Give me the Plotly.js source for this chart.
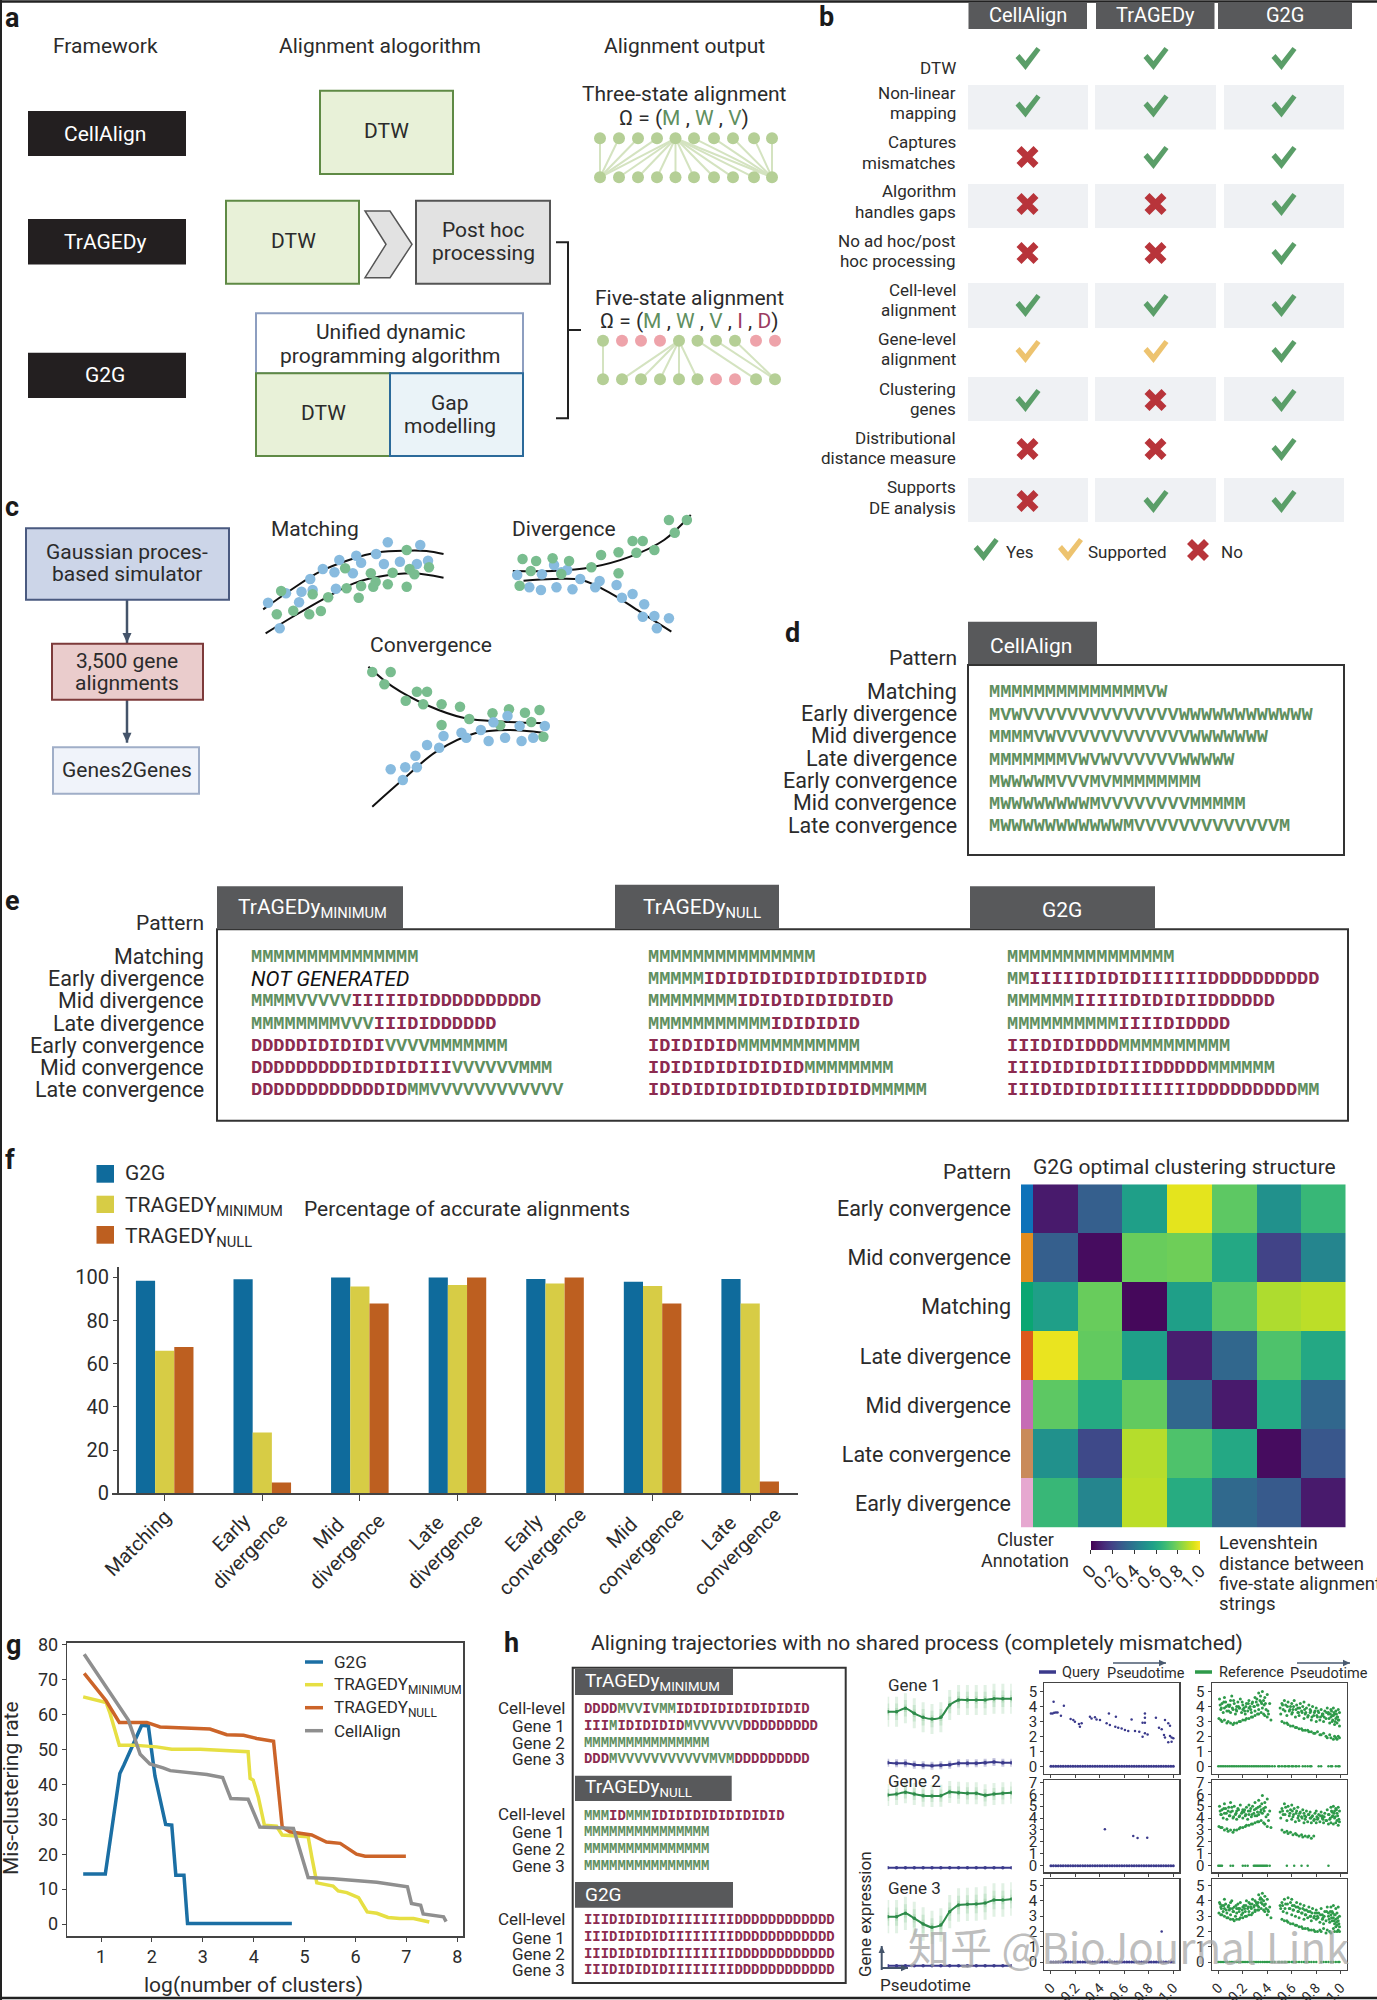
<!DOCTYPE html>
<html><head><meta charset="utf-8">
<script src="https://cdn.plot.ly/plotly-3.0.1.min.js"></script>
<style>html,body{margin:0;padding:0;background:#fff}</style></head>
<body><div id="chart" style="width:1377px;height:2000px"></div>
<script>
/* ---------- data ---------- */
const patterns=['Matching','Early divergence','Mid divergence','Late divergence','Early convergence','Mid convergence','Late convergence'];
const barCats=['Matching','Early<br>divergence','Mid<br>divergence','Late<br>divergence','Early<br>convergence','Mid<br>convergence','Late<br>convergence'];
const g2gAcc=[98.5,99.2,100,100,99.3,98,99.3];
const minAcc=[66,28.2,95.8,96.5,97.2,96,88];
const nullAcc=[67.8,5,88,100,100,88,5.5];

const cellAlignStr=['MMMMMMMMMMMMMMVW','MVWVVVVVVVVVVVVVVWWWWWWWWWWWW','MMMMVWVVVVVVVVVVVVWWWWWWW','MMMMMMMVWVWVVVVVVWWWWW','MWWWWMVVVMVMMMMMMMM','MWWWWWWWWMVVVVVVVVMMMMM','MWWWWWWWWWWWMVVVVVVVVVVVVVM'];
const minStr=['MMMMMMMMMMMMMMM','','MMMMVVVVVIIIIIDIDDDDDDDDDD','MMMMMMMMVVVIIIDIDDDDDD','DDDDDIDIDIDIVVVVMMMMMMM','DDDDDDDDDIDIDIDIIIVVVVVVMMM','DDDDDDDDDDDDIDMMVVVVVVVVVVVV'];
const nullStr=['MMMMMMMMMMMMMMM','MMMMMIDIDIDIDIDIDIDIDIDID','MMMMMMMMIDIDIDIDIDIDID','MMMMMMMMMMMIDIDIDID','IDIDIDIDMMMMMMMMMMM','IDIDIDIDIDIDIDMMMMMMMM','IDIDIDIDIDIDIDIDIDIDMMMMM'];
const g2gStr=['MMMMMMMMMMMMMMM','MMIIIIIDIDIDIIIIIIDDDDDDDDDD','MMMMMMIIIIIDIDIDIIDDDDDD','MMMMMMMMMMIIIIDIDDDD','IIIDIDIDDDMMMMMMMMMM','IIIDIDIDIDIIIDDDDDMMMMMM','IIIDIDIDIDIIIIIIIDDDDDDDDDMM'];

const hMinStr=['DDDDMVVIVMMIDIDIDIDIDIDIDID','IIIMIDIDIDIDMVVVVVVDDDDDDDDD','MMMMMMMMMMMMMMM','DDDMVVVVVVVVVVVMVMDDDDDDDDD'];
const hNullStr=['MMMIDMMMIDIDIDIDIDIDIDID','MMMMMMMMMMMMMMM','MMMMMMMMMMMMMMM','MMMMMMMMMMMMMMM'];
const hG2gStr=['IIIDIDIDIDIIIIIIIIDDDDDDDDDDDD','IIIDIDIDIDIIIIIIIIDDDDDDDDDDDD','IIIDIDIDIDIIIIIIIIDDDDDDDDDDDD','IIIDIDIDIDIIIIIIIIDDDDDDDDDDDD'];
const hRowNames=['Cell-level','Gene 1','Gene 2','Gene 3'];

const featureNames=['DTW','Non-linear<br>mapping','Captures<br>mismatches','Algorithm<br>handles gaps','No ad hoc/post<br>hoc processing','Cell-level<br>alignment','Gene-level<br>alignment','Clustering<br>genes','Distributional<br>distance measure','Supports<br>DE analysis'];
const cellAlignMarks=['Y','Y','N','N','N','Y','S','Y','N','N'];
const tragedyMarks=['Y','Y','Y','N','N','Y','S','N','N','Y'];
const g2gMarks=['Y','Y','Y','Y','Y','Y','Y','Y','Y','Y'];

const clusterOrder=['Early convergence','Mid convergence','Matching','Late divergence','Mid divergence','Late convergence','Early divergence'];
const clusterColors=['#0e72b9','#e28c1e','#0aa672','#dd5a1c','#c66cb5','#c98a5a','#e6a8d0'];
const clusterIdx=[[0],[1],[2],[3],[4],[5],[6]];
const levRow1=[0.07,0.30,0.56,0.96,0.75,0.50,0.67];
const levRow2=[0.30,0.03,0.77,0.78,0.60,0.20,0.45];
const levRow3=[0.56,0.77,0.02,0.56,0.74,0.88,0.90];
const levRow4=[0.97,0.76,0.56,0.08,0.33,0.72,0.60];
const levRow5=[0.75,0.61,0.76,0.33,0.07,0.60,0.33];
const levRow6=[0.50,0.22,0.89,0.72,0.60,0.03,0.27];
const levRow7=[0.67,0.45,0.90,0.62,0.34,0.28,0.07];

const g2gLineX=[0.65,1.085,1.37,1.45,1.80,1.93,2.06,2.27,2.39,2.47,2.63,2.70,4.75];
const g2gLineY=[14.3,14.3,43.1,45.5,56.9,56.7,42.4,28.5,28.3,14,14,0.2,0.2];
const minLineX=[0.65,1.10,1.18,1.36,1.64,2.09,2.39,2.95,3.89,3.93,3.99,4.09,4.21,4.45,4.56,5.07,5.14,5.24,5.56,5.66,5.83,6.06,6.23,6.42,6.64,6.87,7.14,7.45];
const minLineY=[65,63.4,60.2,51.2,51.2,50.7,50,50,49.3,41.7,41.2,36.4,28.3,28,25.5,25,19.3,11.8,10.9,9.5,9,7.6,3.5,3.1,1.9,1.6,1.6,0.6];
const nullLineX=[0.67,1.10,1.36,1.90,2.16,2.42,3.14,3.47,3.80,4.06,4.39,4.56,4.71,5.14,5.43,5.70,6.02,6.19,6.99];
const nullLineY=[71.7,63.9,57.7,57.7,56.4,56.3,55.8,54.2,54,53.1,52.3,27.8,26.4,25.5,23.5,23.1,20,19.4,19.4];
const caLineX=[0.67,1.54,1.77,1.96,2.22,2.36,3.08,3.39,3.55,3.89,4.12,4.45,4.78,5.07,5.56,6.42,7.02,7.10,7.28,7.33,7.73,7.78];
const caLineY=[77.2,58.3,48.6,45.8,44.7,43.9,42.8,41.9,35.9,35.7,27.8,27.6,27.4,13.3,13,12,10.7,5.9,5.4,2.9,2.1,0.7];

/* panel h: smoothed expression traces (plotted heights) */
const trendIdx=[0,1,2,3,4,5,6,7,8,9,10,11,12,13,14];
const g1Ref=[275,275,265,280,292,297,292,255,240,240,240,240,236,236,236];
const g1Qry=[428,430,430,434,436,437,436,434,430,430,430,428,426,428,428];
const g2Ref=[525,522,517,522,527,528,527,516,518,520,520,526,522,520,518];
const g2Qry=[743,743,743,743,743,743,743,743,743,743,743,743,743,743,743];
const g3Ref=[890,890,880,895,912,922,915,875,855,853,852,849,840,840,837];
const g3Qry=[1037,1037,1037,1037,1037,1037,1037,1037,1037,1037,1037,1037,1037,1037,1037];

const q1X=[0,.014,.027,.041,.054,.022,.106,.082,.161,.183,.196,.229,.237,.251,.319,.332,.36,.373,.401,.474,.455,.482,.531,.526,.55,.578,.605,.632,.659,.687,.722,.768,.768,.768,.749,.749,.768,.79,.858,.883,.905,.932,.959,.973,.924,.932,.973,.959,.986,1,.986];
const q1Y=[3.53,3.53,3.58,3.6,3.6,4.31,4.04,3.38,3.16,3.09,2.98,2.82,2.64,2.87,3.31,3.2,3.27,3.13,3.09,3.53,2.87,2.76,3.31,2.64,2.58,2.53,2.42,2.36,3.13,2.36,2.31,3.53,3.24,2.91,2.91,1.98,2.2,2.13,3.24,2.58,2.47,3.09,2.87,2.71,2.09,1.93,2.02,1.6,1.64,1.87,1.93];
const q2X=[.441,.673,.708,.787];
const q2Y=[3.05,2.49,2.32,2.35];
const q3X=[.905];
const q3Y=[2.0];
const qZeroX=[0,.02,.04,.06,.08,.1,.12,.14,.16,.18,.2,.22,.24,.26,.28,.3,.32,.34,.36,.38,.4,.42,.44,.46,.48,.5,.52,.54,.56,.58,.6,.62,.64,.66,.68,.7,.72,.74,.76,.78,.8,.82,.84,.86,.88,.9,.92,.94,.96,.98,1];
const qZeroY=qZeroX.map(()=>0);
const rZeroX=[0,.015,.03,.045,.06,.075,.09,.105,.12,.135,.15,.165,.18,.195,.21,.225,.24,.255,.27,.285,.3,.315,.33,.345,.36,.375,.39,.405,.42,.44,.46,.49,.5,.52,.54,.55,.57,.58,.6,.61,.63,.64,.66,.69,.71,.73,.75,.76,.82,.84,.9,.92,.93,.96,.98,.99];
const rZeroY=rZeroX.map(()=>0);
const r2ZeroX=[0,.01,.02,.03,.1,.12,.2,.22,.24,.29,.3,.31,.32,.33,.34,.35,.36,.37,.38,.39,.4,.42,.56,.62,.68,.73,.9];
const r2ZeroY=r2ZeroX.map(()=>0);
const r3ZeroX=[0,.015,.03,.045,.06,.075,.09,.105,.12,.135,.15,.165,.18,.195,.21,.225,.24,.255,.27,.285,.3,.315,.33,.345,.36,.375,.39,.405,.42,.44,.46,.49,.5,.52,.54,.55,.57,.58,.6,.61,.63,.64,.66,.68,.7,.72,.74,.76,.78,.8,.84,.86,.88,.9,.92,.94,.96,.98,.99];
const r3ZeroY=r3ZeroX.map(()=>0);

const refXa=[.01,.03,.05,.06,.08,.1,.11,.13,.15,.16,.18,.2,.21,.23,.25,.26,.28,.3,.31,.33,.34,.36,.38,.4,.42,.52,.54,.55,.57,.59,.6,.62,.64,.65,.67,.69,.7,.72,.74,.75,.77,.79,.8,.82,.84,.85,.87,.89,.9,.92,.93,.94,.95,.96,.97,.98,.99];
const refXb=[.02,.04,.05,.07,.09,.1,.12,.14,.15,.17,.19,.2,.22,.24,.25,.27,.29,.3,.32,.33,.35,.36,.37,.39,.41,.51,.53,.56,.58,.6,.61,.63,.65,.66,.68,.7,.71,.73,.75,.76,.78,.8,.81,.83,.85,.86,.88,.9,.91,.92,.93,.94,.95,.96,.97,.98,.99];
const refXc=[.005,.02,.03,.05,.07,.08,.1,.12,.13,.15,.17,.18,.2,.22,.23,.25,.27,.28,.3,.32,.33,.35,.37,.38,.4,.43,.52,.54,.56,.57,.59,.61,.63,.64,.66,.68,.69,.71,.73,.74,.76,.78,.79,.81,.83,.84,.86,.88,.89,.91,.92,.94,.95,.96,.97,.98,.99];
const refXd=[.015,.025,.045,.065,.085,.095,.115,.125,.145,.165,.175,.195,.215,.225,.245,.265,.275,.295,.315,.325,.345,.355,.375,.385,.405,.505,.525,.545,.565,.585,.605,.615,.635,.655,.665,.685,.705,.715,.735,.755,.765,.785,.805,.815,.835,.855,.865,.885,.905,.915,.925,.935,.945,.955,.965,.975,.985];
const r1a=[4.5,4.2,4.6,4.3,4.1,4.4,4.7,4.2,4.0,4.3,4.5,4.1,3.9,4.2,4.4,4.0,4.3,4.6,4.3,4.9,4.4,5.0,4.6,4.8,4.2,4.2,4.4,4.1,4.3,4.0,4.2,4.4,4.1,3.9,4.2,4.0,4.3,3.9,4.1,3.8,4.0,3.7,3.9,3.6,3.8,3.5,3.7,3.9,3.6,3.8,3.4,3.9,3.5,3.7,3.3,3.8,3.6];
const r1b=[3.8,3.6,3.9,3.7,4.0,3.6,3.8,3.5,3.7,3.9,3.6,3.8,3.5,3.7,3.9,3.6,4.0,3.7,4.1,3.8,4.3,3.9,4.4,3.8,3.5,3.5,3.8,3.4,3.7,3.5,3.8,3.3,3.6,3.4,3.7,3.2,3.5,3.3,3.6,3.1,3.4,3.0,3.3,3.1,3.4,3.0,3.2,3.5,2.9,3.3,3.0,3.4,2.8,3.2,2.9,3.1,2.7];
const r1c=[3.2,3.1,3.0,3.1,2.9,3.0,2.9,2.8,2.9,2.9,3.0,3.0,3.1,3.1,3.2,3.2,3.3,3.3,3.4,3.5,3.5,3.6,3.5,3.4,3.3,3.1,3.0,2.9,2.9,2.8,2.7,2.7,2.6,2.6,2.5,2.5,2.4,2.4,2.4,2.3,2.3,2.2,2.2,2.3,2.1,2.1,2.2,2.0,1.9,2.1,1.9,1.8,2.0,1.9,1.8,2.0,1.9];
const r1d=[4.1,3.9,4.3,4.0,3.7,4.1,3.9,4.4,3.8,4.0,3.9,4.3,3.7,4.0,4.2,3.8,4.2,4.0,4.5,4.1,4.7,4.2,4.1,4.2,3.7,3.9,4.1,3.7,4.0,3.8,3.6,4.0,3.8,3.6,3.9,3.6,3.8,3.6,3.4,3.7,3.3,3.6,3.4,3.7,3.3,3.5,3.3,3.6,3.2,3.5,3.7,3.1,3.6,3.0,3.5,3.3,3.1];
const r2a=[5.0,4.7,5.2,4.8,4.6,5.3,4.9,5.0,4.6,4.8,5.1,4.7,4.5,4.9,5.1,4.6,5.0,5.3,4.8,5.5,5.0,5.9,5.3,5.6,4.6,4.8,5.2,4.9,5.0,4.7,5.1,4.8,4.6,4.9,4.5,4.7,4.4,4.6,4.3,4.5,4.2,4.4,4.6,4.3,4.5,4.2,4.4,4.7,4.3,4.9,4.5,5.0,4.6,4.8,4.4,4.9,4.6];
const r2b=[4.3,4.0,4.4,3.9,4.2,4.5,4.0,4.3,3.9,4.1,4.4,4.0,4.2,3.9,4.3,4.1,4.4,4.2,4.5,4.3,4.7,4.4,4.8,4.1,3.8,4.0,4.3,3.8,4.2,3.9,4.1,3.7,4.0,3.8,4.1,3.6,3.9,3.7,4.0,3.6,3.8,3.6,3.9,3.7,4.0,3.6,3.8,3.5,3.9,3.6,4.1,3.5,4.0,3.6,3.8,3.4,3.7];
const r2c=[3.3,3.2,3.2,3.0,3.1,2.9,3.0,2.8,3.0,3.0,3.1,3.2,3.2,3.3,3.4,3.4,3.5,3.5,3.6,3.7,3.7,3.8,3.6,3.5,3.3,3.2,3.0,2.8,2.9,2.7,2.8,2.6,2.7,2.6,2.5,2.6,2.4,2.5,2.4,2.5,2.3,2.5];
const r2d=[4.6,4.3,4.8,4.4,4.9,4.2,4.6,4.1,4.4,4.7,4.2,4.5,4.7,4.3,4.6,4.8,4.3,4.7,4.2,4.9,4.5,5.2,4.6,4.9,4.3,4.5,4.6,4.3,4.6,4.4,4.6,4.3,4.4,4.2,4.4,4.0,4.2,4.1,4.3,4.0,4.1,3.9,4.1,4.0,4.2,3.9,4.1,3.8,4.3,4.0,4.6,4.2,4.4,4.1,4.7,4.2,3.9];
const r3a=[3.9,3.7,4.1,3.8,3.6,3.9,4.0,3.6,3.5,3.8,3.9,3.6,3.7,4.0,3.9,3.8,4.1,4.0,3.9,4.4,4.1,4.5,4.3,4.1,3.6,3.9,4.1,3.8,4.2,3.9,4.1,3.7,3.9,3.6,3.8,3.5,3.7,3.4,3.6,3.3,3.5,3.2,3.4,3.2,3.5,3.1,3.3,3.6,3.2,3.6,3.3,3.7,3.1,3.5,3.2,3.6,3.0];
const r3b=[3.6,3.3,3.5,3.2,3.4,3.1,3.3,3.0,3.2,3.3,3.1,3.2,3.3,3.5,3.3,3.5,3.6,3.4,3.7,3.6,3.9,3.8,4.0,3.5,3.3,3.5,3.3,3.2,3.5,3.1,3.4,3.0,3.3,2.9,3.2,2.8,3.1,2.9,3.0,2.7,2.9,2.8,3.0,2.6,2.8,2.5,2.7,3.0,2.6,3.1,2.7,2.9,2.5,2.8,2.4,2.7,2.3];
const r3c=[3.2,3.1,3.1,3.0,2.9,2.9,2.8,2.8,2.7,2.8,2.8,2.9,2.9,3.0,3.0,3.1,3.1,3.2,3.3,3.4,3.4,3.5,3.4,3.3,3.1,2.9,2.8,2.7,2.7,2.6,2.5,2.5,2.4,2.4,2.3,2.3,2.2,2.2,2.2,2.1,2.1,2.1,2.0,2.0,2.1,2.0,2.2,1.9,2.1,2.0,1.9,2.2,2.0,2.3,2.0,2.1,2.0];
const r3d=[3.8,3.5,3.7,3.4,3.7,3.5,3.5,3.3,3.7,3.5,3.5,3.4,3.5,3.7,3.6,3.6,3.8,3.7,3.8,3.9,4.2,4.1,3.7,3.8,3.4,3.7,3.7,3.5,3.8,3.5,3.7,3.4,3.6,3.3,3.5,3.2,3.4,3.1,3.3,3.0,3.2,3.0,3.2,2.9,3.1,2.9,3.0,3.3,2.8,3.3,2.9,3.2,2.7,3.1,2.6,2.9,2.5];

/* panel c schematic cell positions, in the schematic's own coordinates */
const matchBlueX=[800,867,776,735,745,700,666,690,728,792,825,860,883,640,622,590,617,553,693,577,645];
const matchBlueY=[157,165,192,197,218,210,237,247,250,222,215,222,212,267,305,310,337,338,296,415,300];
const matchGreenX=[839,712,765,810,845,855,885,775,800,839,770,745,715,740,677,645,580,605,571,638,662];
const matchGreenY=[180,235,250,248,237,253,232,275,283,290,290,288,295,323,322,313,303,362,373,373,363];
const divBlueX=[1067,1118,1143,1170,1158,1092,1116,1148,1181,1197,1237,1228,1272,1283,1305,1329,1326,1350,1380,1355];
const divBlueY=[255,253,225,240,247,292,300,292,298,267,273,292,285,323,312,343,380,378,385,415];
const divGreenX=[1380,1417,1392,1305,1326,1350,1313,1276,1240,1220,1276,1078,1106,1140,1174,1095,1158,1072];
const divGreenY=[90,90,128,153,153,180,188,187,195,232,250,207,213,205,213,243,252,287];
const convGreenX=[768,806,793,860,881,837,873,911,949,968,911,1016,1050,1083,1113,1096,1032,1121];
const convGreenY=[546,546,583,605,605,632,643,643,650,687,705,670,658,668,660,696,706,740];
const convBlueX=[1018,1047,1072,1124,992,952,962,915,1008,1042,1076,1100,881,906,857,806,836,860,831];
const convBlueY=[697,678,708,708,720,728,743,738,753,743,753,743,765,773,797,838,832,832,870];

/* ---------- helpers ---------- */
const W=1377,H=2000, FONT='Roboto, sans-serif', INK='#2b2b2b';
const domX=(a,b)=>[a/W,b/W], domY=(a,b)=>[1-b/H,1-a/H];
const annotations=[], shapes=[], traces=[];
function T(text,x,y,size,o={}){annotations.push({text,x,y,xref:o.xref||'x',yref:'y',xshift:o.dx||0,showarrow:false,xanchor:o.a||'center',yanchor:'middle',align:o.a==='right'?'right':o.a==='left'?'left':'center',font:{family:o.f||FONT,size,color:o.c||INK},textangle:o.rot||0,borderpad:0});}
/* several lines around a centre, with the reference's tight line spacing */
function ML(text,x,yc,size,gap,o={}){const ls=text.split('<br>');ls.forEach((l,i)=>T(l,x,yc+(i-(ls.length-1)/2)*gap,size,o));}
function R(x0,y0,x1,y1,fill,line,lw){shapes.push({type:'rect',xref:'x',yref:'y',x0,y0,x1,y1,fillcolor:fill||'rgba(0,0,0,0)',line:{color:line||'rgba(0,0,0,0)',width:line?(lw||2):0}});}
function L(pts,color,w){traces.push({type:'scatter',mode:'lines',x:pts.map(p=>p[0]),y:pts.map(p=>p[1]),line:{color,width:w},hoverinfo:'skip',showlegend:false,xaxis:'x',yaxis:'y'});}
function P(d,fill,line,lw){shapes.push({type:'path',path:d,xref:'x',yref:'y',fillcolor:fill||'rgba(0,0,0,0)',line:{color:line||'rgba(0,0,0,0)',width:line?lw:0}});}
function arrow(x0,y0,x1,y1,color,lw,h){L([[x0,y0],[x1,y1]],color,lw);const dx=x1-x0,dy=y1-y0,n=Math.hypot(dx,dy),ux=dx/n,uy=dy/n;P(`M${x1},${y1} L${x1-ux*h-uy*h*.45},${y1-uy*h+ux*h*.45} L${x1-ux*h+uy*h*.45},${y1-uy*h-ux*h*.45} Z`,color);}
function colourise(s){return '<b>'+s.match(/[MVW]+|[ID]+/g).map(g=>`<span style="color:${/[MVW]/.test(g[0])?'#5f8f5f':'#8c2b50'}">${g}</span>`).join('')+'</b>';}
function mono(s,x,y,size){if(s)T(colourise(s),x,y,size,{a:'left',f:'Liberation Mono, monospace'});}
function letter(s,x,y){T('<b>'+s+'</b>',x,y,27,{f:'Roboto, sans-serif',c:'#1a1a1a'});}
function dots(xs,ys,color,size,ax,ay){traces.push({type:'scatter',mode:'markers',x:xs,y:ys,marker:{color,size},hoverinfo:'skip',showlegend:false,xaxis:ax||'x',yaxis:ay||'y'});}
const DTWF='#e8f1d8',DTWL='#5f8a45',HDR='#58595b',BIG=21;

/* page frame */
L([[0,1.5],[W,1.5]],'#222',2.5); L([[1,0],[1,H]],'#222',2); L([[0,1998],[W,1998]],'#222',2.5);

/* ---------- panel a ---------- */
letter('a',12,18);
T('Framework',105,45.7,BIG); T('Alignment alogorithm',380,45.7,BIG); T('Alignment output',684,45.7,BIG);
[['CellAlign',111,156],['TrAGEDy',219,264.5],['G2G',352.7,398]].forEach(r=>{R(28,r[1],186,r[2],'#231f20');T(r[0],105,(r[1]+r[2])/2,BIG,{c:'#fff'});});
R(320,90.7,453,174,DTWF,DTWL); T('DTW',386,131,BIG);
R(226,200.7,359,283.7,DTWF,DTWL); T('DTW',293,241,BIG);
P('M365,211 L390,211 L412,244.3 L390,277.7 L365,277.7 L386,244.3 Z','#e2e2e2','#555',1.5);
R(416,200.7,550,283.7,'#e2e2e2','#555'); ML('Post hoc<br>processing',483,241.5,BIG,23.3);
R(256,313.3,523,373.3,'#fff','#8d9ec0'); ML('Unified dynamic<br>programming algorithm',390,344,BIG,24);
R(256,373.3,390,456,DTWF,DTWL); T('DTW',323,413.3,BIG);
R(390,373.3,523,456,'#eaf3f8','#2b6a9a'); ML('Gap<br>modelling',450,414.3,BIG,23.3);
L([[556,242.3],[568,242.3],[568,418.3],[556,418.3]],'#222',2); L([[568,330],[581,330]],'#222',2);
const gr='#5f8f5f',rd='#9c3b62';
const sp=(t,c)=>`<span style="color:${c}">${t}</span>`;
T('Three-state alignment',684,94.3,BIG);
T(`Ω = (${sp('M',gr)} , ${sp('W',gr)} , ${sp('V',gr)})`,684,117.7,BIG);
const top3=[600,619,638,657,675.5,694,714,733,754,772], topEdges3=[0,1,2,3,4,4,4,4,4,4,4,4,4,4,5,6,7,8,9], botEdges3=[0,0,0,0,0,1,2,3,4,5,6,7,8,9,9,9,9,9,9];
topEdges3.forEach((t,i)=>L([[top3[t],138.3],[top3[botEdges3[i]],177.3]],'#d4e3c0',2));
dots(top3,top3.map(()=>138.3),'#b5cf96',12); dots(top3,top3.map(()=>177.3),'#b5cf96',12);
T('Five-state alignment',689,297.7,BIG);
T(`Ω = (${sp('M',gr)} , ${sp('W',gr)} , ${sp('V',gr)} , ${sp('I',rd)} , ${sp('D',rd)})`,689,321,BIG);
const top5=[603,622,641,660,679,697.5,716,735,756,775], topEdges5=[0,4,4,4,4,4,5,6,7], botEdges5=[0,1,2,3,4,5,8,9,9];
const topKind5=['g','p','p','p','g','g','g','g','p','p'], botKind5=['g','g','g','g','g','g','p','p','g','g'];
topEdges5.forEach((t,i)=>L([[top5[t],340.7],[top5[botEdges5[i]],379.3]],'#d4e3c0',2));
dots(top5,top5.map(()=>340.7),topKind5.map(k=>k==='g'?'#b5cf96':'#eea3aa'),12);
dots(top5,top5.map(()=>379.3),botKind5.map(k=>k==='g'?'#b5cf96':'#eea3aa'),12);

/* ---------- panel b ---------- */
letter('b',826,17);
[['CellAlign',968.5,1087],['TrAGEDy',1096,1214.5],['G2G',1218,1352]].forEach(h=>{R(h[1],2,h[2],29,HDR);T(h[0],(h[1]+h[2])/2,15,20,{c:'#fff'});});
[[85,129.5],[184,228],[283,328],[377,421],[478,522]].forEach(r=>{[[968,1088],[1095,1216],[1224,1344]].forEach(c=>R(c[0],r[0],c[1],r[1],'#eff1f4'));});
const rowLabelY=[68,103,152.5,201.5,251,300,349,399,448,497.5], rowMarkY=[58,105.5,157,204,253,305,351,400,449,501];
featureNames.forEach((f,i)=>ML(f,957,rowLabelY[i],17,20.3,{a:'right'}));
function check(cx,cy,c){P(`M${cx-12},${cy} L${cx-8},${cy-4} L${cx-2},${cy+3} L${cx+9},${cy-11} L${cx+13},${cy-8} L${cx-2},${cy+12} Z`,c);}
function cross(cx,cy){P(`M${cx-8.5},${cy-8.5} L${cx+8.5},${cy+8.5} M${cx-8.5},${cy+8.5} L${cx+8.5},${cy-8.5}`,null,'#b8343a',7);}
function mark(m,cx,cy){if(m==='Y')check(cx,cy,'#5a9e68');else if(m==='S')check(cx,cy,'#edc36f');else cross(cx,cy);}
rowMarkY.forEach((y,i)=>{mark(cellAlignMarks[i],1027.5,y);mark(tragedyMarks[i],1155.5,y);mark(g2gMarks[i],1283.5,y);});
mark('Y',985.6,549); T('Yes',1004.7,552,17,{a:'left'});
mark('S',1070,549); T('Supported',1086.5,552,17,{a:'left'});
mark('N',1198,550); T('No',1220,552,17,{a:'left'});

/* ---------- panel c ---------- */
letter('c',12,507);
R(26,528.3,229,599.7,'#ccd5e8','#4a5a80'); ML('Gaussian proces-<br>based simulator',127,563,BIG,22.6);
arrow(127,599.7,127,643,'#44546a',2.5,10);
R(52,643.7,203,699.7,'#eacccc','#7d3a3a'); ML('3,500 gene<br>alignments',127,672,BIG,22.3);
arrow(127,699.7,127,742.7,'#44546a',2.5,10);
R(53,747.3,199,793.7,'#f0f3fa','#a0aec8'); T('Genes2Genes',127,770,BIG);
T('Matching',315,529.3,BIG); T('Divergence',564,529.3,BIG); T('Convergence',431,645,BIG);
const cX=v=>v/2.063, cY=v=>v/3+490;
function curve(pts){traces.push({type:'scatter',mode:'lines',x:pts.map(p=>cX(p[0])),y:pts.map(p=>cY(p[1])),line:{color:'#111',width:2,shape:'spline'},hoverinfo:'skip',showlegend:false,xaxis:'x',yaxis:'y'});}
curve([[543,358],[600,300],[660,245],[720,210],[780,187],[840,182],[880,183],[915,192]]);
curve([[548,430],[610,375],[670,325],[730,280],[790,258],[850,250],[915,263]]);
curve([[1058,243],[1140,243],[1220,232],[1300,200],[1370,150],[1425,75]]);
curve([[1080,272],[1140,267],[1200,270],[1260,310],[1320,365],[1385,425]]);
curve([[760,530],[810,590],[880,645],[960,685],[1040,695],[1130,700]]);
curve([[768,950],[830,870],[900,785],[980,730],[1050,720],[1120,728]]);
const BL='#88bbdf',GN='#79bd8f',CS=10.5;
dots(matchBlueX.map(cX),matchBlueY.map(cY),BL,CS); dots(matchGreenX.map(cX),matchGreenY.map(cY),GN,CS);
dots(divBlueX.map(cX),divBlueY.map(cY),BL,CS); dots(divGreenX.map(cX),divGreenY.map(cY),GN,CS);
dots(convGreenX.map(cX),convGreenY.map(cY),GN,CS); dots(convBlueX.map(cX),convBlueY.map(cY),BL,CS);

/* ---------- panel d ---------- */
letter('d',792,633);
R(968,621.7,1097,665,HDR); T('CellAlign',1030.5,646,BIG,{c:'#fff'});
R(968,665,1344,855,'#fff','#333');
T('Pattern',958,657.7,BIG,{a:'right'});
const dY=[692.7,715,737.3,760,782.3,804.3,826.7];
patterns.forEach((p,i)=>{T(p,958,dY[i]-1.5,21.5,{a:'right'});mono(cellAlignStr[i],988,dY[i],18.6);});

/* ---------- panel e ---------- */
letter('e',12,901);
R(217,929.3,1348,1120.7,'#fff','#333'); L([[616.5,929.3],[616.5,1120.7]],'#333',2); L([[970.7,929.3],[970.7,1120.7]],'#333',2);
R(217,886.3,403,929,HDR); R(615,884.7,779,929,HDR); R(970,886.3,1155,929,HDR);
T('TrAGEDy<sub>MINIMUM</sub>',236.6,908,BIG,{a:'left',c:'#fff'});
T('TrAGEDy<sub>NULL</sub>',642,908,BIG,{a:'left',c:'#fff'});
T('G2G',1062,910,BIG,{c:'#fff'});
T('Pattern',205,923.3,BIG,{a:'right'});
const eY=[957.3,979.3,1001.7,1024,1046,1068.7,1090.7];
patterns.forEach((p,i)=>{T(p,205,eY[i]-1,21.5,{a:'right'});mono(minStr[i],250,eY[i],18.6);mono(nullStr[i],647,eY[i],18.6);mono(g2gStr[i],1006,eY[i],18.6);});
T('<i>NOT GENERATED</i>',250,979,BIG,{a:'left',c:'#111'});

/* ---------- panel f bars ---------- */
letter('f',10,1160);
R(96.5,1165,114,1182.7,'#0f6b9c'); R(96.5,1195.7,114,1213,'#d7cc45'); R(96.5,1226,114,1243.7,'#bd5f20');
T('G2G',124,1173.3,BIG,{a:'left'}); T('TRAGEDY<sub>MINIMUM</sub>',124,1206,BIG,{a:'left'}); T('TRAGEDY<sub>NULL</sub>',124,1237,BIG,{a:'left'});
T('Percentage of accurate alignments',466.6,1209.3,BIG);
[[g2gAcc,'#0f6b9c','G2G'],[minAcc,'#d7cc45','TRAGEDY minimum'],[nullAcc,'#bd5f20','TRAGEDY null']].forEach(s=>traces.push({type:'bar',x:barCats,y:s[0],name:s[2],marker:{color:s[1]},xaxis:'x2',yaxis:'y2',showlegend:false,hoverinfo:'skip'}));
barCats.forEach((c,i)=>T(c,c,i===0?1543:1542,20,{xref:'x2',dx:i===0?-27:-22,rot:-45}));

/* ---------- panel f heatmap ---------- */
traces.push({type:'heatmap',x:[0,1,2,3,4,5,6],y:clusterOrder,z:[levRow1,levRow2,levRow3,levRow4,levRow5,levRow6,levRow7],colorscale:'Viridis',zmin:0,zmax:1,xaxis:'x4',yaxis:'y4',hoverinfo:'skip',
 colorbar:{orientation:'h',x:1090.7/W,xanchor:'left',y:1-1541/H,yanchor:'top',xpad:0,ypad:0,lenmode:'pixels',len:108.5,thicknessmode:'pixels',thickness:9,tickvals:[0,.2,.4,.6,.8,1],ticktext:['0','0.2','0.4','0.6','0.8','1.0'],tickangle:-45,ticks:'outside',ticklen:4,tickcolor:'#333',tickfont:{family:FONT,size:18,color:INK},outlinewidth:0}});
traces.push({type:'heatmap',x:[0],y:clusterOrder,z:clusterIdx,zmin:-0.5,zmax:6.5,colorscale:clusterColors.flatMap((c,i)=>[[i/7,c],[(i+1)/7,c]]),showscale:false,xaxis:'x5',yaxis:'y5',hoverinfo:'skip'});
T('Pattern',1011.5,1171.7,BIG,{a:'right'}); T('G2G optimal clustering structure',1184,1167.3,BIG);
ML('Cluster<br>Annotation',1025,1550.3,18,20.7);
ML('Levenshtein<br>distance between<br>five-state alignment<br>strings',1218,1573.8,18.5,20.4,{a:'left'});

/* ---------- panel g ---------- */
letter('g',13,1645);
[[g2gLineX,g2gLineY,'#1b6fa4','G2G'],[minLineX,minLineY,'#e6df43','TRAGEDY minimum'],[nullLineX,nullLineY,'#cc6429','TRAGEDY null'],[caLineX,caLineY,'#8f8f8f','CellAlign']].forEach(s=>traces.push({type:'scatter',mode:'lines',x:s[0],y:s[1],name:s[3],line:{color:s[2],width:3.5},xaxis:'x3',yaxis:'y3',showlegend:false,hoverinfo:'skip'}));
[['G2G','#1b6fa4',1662],['TRAGEDY<sub>MINIMUM</sub>','#e6df43',1684.7],['TRAGEDY<sub>NULL</sub>','#cc6429',1707.7],['CellAlign','#8f8f8f',1730.7]].forEach(l=>{L([[305,l[2]],[323,l[2]]],l[1],3.5);T(l[0],333,l[2]+(l[0].includes('sub')?1:0),17,{a:'left'});});
T('Mis-clustering rate',11,1788,21,{rot:-90});
T('log(number of clusters)',253,1985,21);

/* ---------- panel h ---------- */
letter('h',511,1643);
T('Aligning trajectories with no shared process (completely mismatched)',917,1643,21);
R(572.7,1667.7,845.7,1983,'#fff','#333');
L([[572.7,1774.7],[845.7,1774.7]],'#333',2); L([[572.7,1881],[845.7,1881]],'#333',2);
R(575,1669,733,1695,HDR); R(575,1775.7,731.7,1801,HDR); R(575,1882,733,1907.7,HDR);
T('TrAGEDy<sub>MINIMUM</sub>',584,1681,19,{a:'left',c:'#fff'});
T('TrAGEDy<sub>NULL</sub>',584,1787,19,{a:'left',c:'#fff'});
T('G2G',584,1894,19,{a:'left',c:'#fff'});
const hLabelY=[1707.7,1726,1743,1759,1814,1832,1849,1865.7,1919,1937.7,1954,1970];
const hStrY=[1709,1725.7,1742.7,1759.3,1815.7,1832.3,1849.3,1866,1920,1936.7,1953.7,1970.3];
[hMinStr,hNullStr,hG2gStr].forEach((set,b)=>set.forEach((s,i)=>{T(hRowNames[i],566,hLabelY[b*4+i],17,{a:'right'});mono(s,582.7,hStrY[b*4+i],13.93);}));
T('Gene expression',865,1914,17,{rot:-90});
arrow(881.7,1970,881.7,1946,'#44546a',2,7); arrow(881.7,1968,908,1968,'#44546a',2,7);
T('Pseudotime',925,1985,17);
T('Gene 1',886.7,1685,17,{a:'left'}); T('Gene 2',886.7,1781,17,{a:'left'}); T('Gene 3',886.7,1887.7,17,{a:'left'});
function trend(y,color,e){
 [e,e*.55,e*.25].forEach(v=>{if(v>0)traces.push({type:'scatter',mode:'markers',x:trendIdx,y,marker:{size:.1,color:'rgba(0,0,0,0)'},error_y:{type:'constant',value:v,color:color==='#2e8b4a'?'rgba(120,190,130,.22)':'rgba(70,70,150,.3)',thickness:3,width:0},xaxis:'x12',yaxis:'y12',hoverinfo:'skip',showlegend:false});});
 traces.push({type:'scatter',mode:'lines+markers',x:trendIdx,y,line:{color,width:2,shape:'spline',smoothing:.6},marker:{color,size:3.5},xaxis:'x12',yaxis:'y12',hoverinfo:'skip',showlegend:false});
}
trend(g1Ref,'#2e8b4a',45); trend(g1Qry,'#3b3a8c',12);
trend(g2Ref,'#2e8b4a',33); trend(g2Qry,'#3b3a8c',0);
trend(g3Ref,'#2e8b4a',50); trend(g3Qry,'#3b3a8c',0);

const PUR='#3b3a8c', GRN='#2e9a4a';
L([[1039,1672],[1056,1672]],PUR,3.5); T('Query',1061,1672,14.5,{a:'left'}); T('Pseudotime',1145.7,1673,14.5);
arrow(1113,1663,1166,1663,'#4a5a70',1.5,7);
L([[1195,1672],[1212,1672]],GRN,3.5); T('Reference',1217.7,1672,14.5,{a:'left'}); T('Pseudotime',1329,1673,14.5);
arrow(1297,1663,1350,1663,'#4a5a70',1.5,7);
const qSets=[[q1X,q1Y],[q2X,q2Y],[q3X,q3Y]];
qSets.forEach((q,i)=>{const ax='x'+(6+i),ay='y'+(6+i);dots(qZeroX,qZeroY,PUR,3,ax,ay);dots(q[0],q[1],PUR,2.5,ax,ay);});
const rSets=[[r1a,r1b,r1c,r1d,rZeroX,rZeroY],[r2a,r2b,r2c,r2d,r2ZeroX,r2ZeroY],[r3a,r3b,r3c,r3d,r3ZeroX,r3ZeroY]];
rSets.forEach((r,i)=>{const ax='x'+(9+i),ay='y'+(9+i);dots(r[4],r[5],GRN,2.5,ax,ay);dots(refXa,r[0],GRN,3,ax,ay);dots(refXb,r[1],GRN,3,ax,ay);dots(refXc,r[2],GRN,3,ax,ay);dots(refXd,r[3],GRN,3,ax,ay);});
T('知乎 @BioJournal Link',1128,1945,42,{f:'Noto Sans CJK SC, Roboto',c:'rgba(165,165,165,.72)'});

/* ---------- layout ---------- */
const axLine={showline:true,linecolor:'#444',linewidth:1.5,ticks:'outside',tickcolor:'#444',showgrid:false,zeroline:false,fixedrange:true};
const layout={width:W,height:H,margin:{l:0,r:0,t:0,b:0},paper_bgcolor:'#fff',plot_bgcolor:'rgba(0,0,0,0)',showlegend:false,barmode:'group',bargap:.41,bargroupgap:0,
 annotations,shapes,
 xaxis:{domain:[0,1],range:[0,W],visible:false,fixedrange:true},
 yaxis:{domain:[0,1],range:[H,0],visible:false,fixedrange:true},
 xaxis2:Object.assign({},axLine,{domain:domX(112,798),anchor:'y2',type:'category',categoryorder:'array',categoryarray:barCats,range:[-0.54,6.49],showticklabels:false,ticklen:6}),
 yaxis2:Object.assign({},axLine,{domain:domY(1266.7,1493.3),anchor:'free',position:117/W,range:[0,105],tickvals:[0,20,40,60,80,100],ticklen:4,tickfont:{family:FONT,size:20,color:INK}}),
 xaxis3:Object.assign({},axLine,{domain:domX(67.3,463.3),anchor:'y3',range:[0.338,8.118],mirror:true,tickvals:[1,2,3,4,5,6,7,8],ticklen:4,tickfont:{family:FONT,size:18,color:INK}}),
 yaxis3:Object.assign({},axLine,{domain:domY(1642.7,1936),anchor:'x3',range:[-3.4,80.5],mirror:true,tickvals:[0,10,20,30,40,50,60,70,80],ticklen:4,tickfont:{family:FONT,size:18,color:INK}}),
 xaxis4:{domain:domX(1033,1345.5),anchor:'y4',visible:false,fixedrange:true},
 yaxis4:{domain:domY(1184.3,1527.7),anchor:'x4',type:'category',autorange:'reversed',visible:false,fixedrange:true},
 xaxis5:{domain:domX(1021,1033),anchor:'y5',visible:false,fixedrange:true},
 yaxis5:{domain:domY(1184.3,1527.7),anchor:'x5',type:'category',autorange:'reversed',showline:false,ticks:'',ticklen:0,ticklabelstandoff:9,showgrid:false,zeroline:false,fixedrange:true,tickfont:{family:FONT,size:21.5,color:INK}},
 xaxis12:{domain:domX(887.7,1011.7),anchor:'y12',range:[0,14],visible:false,fixedrange:true},
 yaxis12:{domain:domY(1680,1980),anchor:'x12',range:[1080,180],visible:false,fixedrange:true}
};
const cols=[[1044.3,1179.3],[1211.7,1346.7]];
const rows=[[1682.7,1774,[-0.51,5.58],[0,1,2,3,4,5]],[1780,1872.3,[-0.56,7.2],[0,1,2,3,4,5,6,7]],[1879.3,1970,[-0.52,5.41],[0,1,2,3,4,5]]];
cols.forEach((c,ci)=>rows.forEach((r,ri)=>{const n=6+ci*3+ri;
 layout['xaxis'+n]=Object.assign({},axLine,{domain:domX(c[0],c[1]),anchor:'y'+n,range:[-0.054,1.049],mirror:true,linewidth:1.2,ticklen:3,tickvals:[0,.2,.4,.6,.8,1],ticktext:['0','0.2','0.4','0.6','0.8','1.0'],showticklabels:ri===2,tickangle:-45,tickfont:{family:FONT,size:14,color:INK}});
 layout['yaxis'+n]=Object.assign({},axLine,{domain:domY(r[0],r[1]),anchor:'x'+n,range:r[2],mirror:true,linewidth:1.2,ticklen:3,tickvals:r[3],tickfont:{family:FONT,size:15,color:INK}});
}));
Plotly.newPlot('chart',traces,layout,{displayModeBar:false,staticPlot:true});
</script></body></html>
